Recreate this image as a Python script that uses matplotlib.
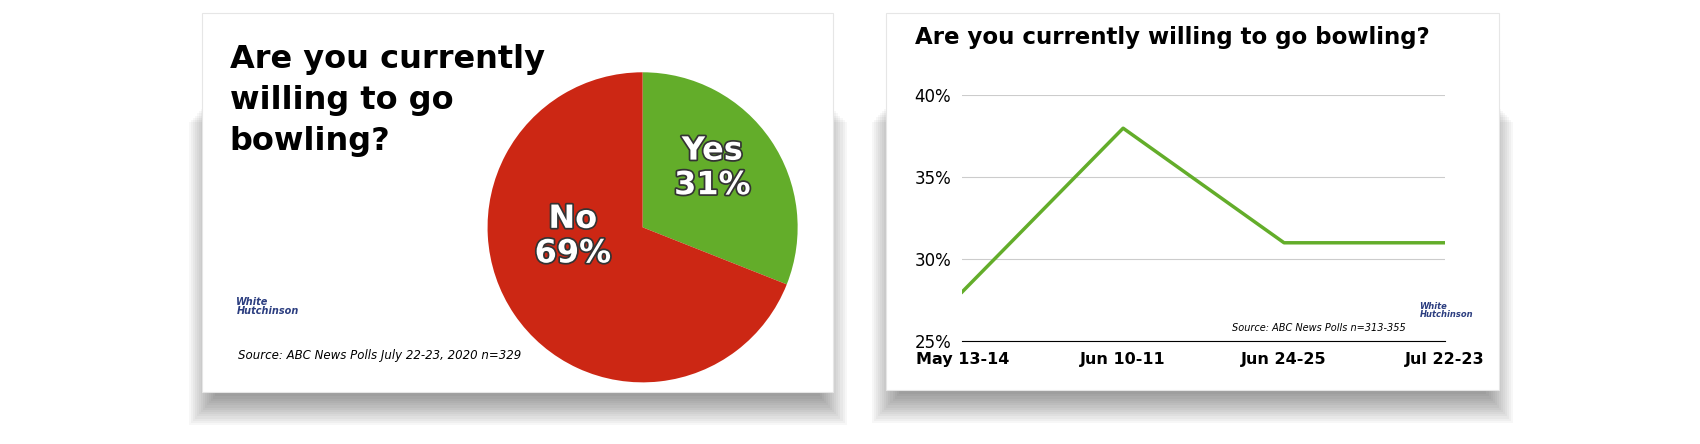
import matplotlib
matplotlib.use("Agg")
from matplotlib import pyplot as plt
from matplotlib.patches import Rectangle
import matplotlib.patheffects as pe

# Data
pie_labels = ["Yes", "No"]
pie_values = [31, 69]
pie_colors = ["#63ad2a", "#cc2714"]

dates = ["May 13-14", "Jun 10-11", "Jun 24-25", "Jul 22-23"]
willing = [28, 38, 31, 31]

fig = plt.figure(figsize=(17, 4.44), dpi=100)
fig.patch.set_facecolor("white")

# Cards with a soft shadow below
cards = [(0.119, 0.117, 0.371, 0.853), (0.521, 0.122, 0.361, 0.848)]
for (x, y, w, h) in cards:
    for i in range(14):
        sx = i * 0.0012
        sy = i * 0.005
        fig.patches.append(Rectangle((x - 0.008 + sx, y - 0.075 + sy), w + 0.016 - 2 * sx,
                                     h * 0.8, transform=fig.transFigure, color="black",
                                     alpha=0.03, lw=0, zorder=-2))
    fig.patches.append(Rectangle((x, y), w, h, transform=fig.transFigure,
                                 facecolor="white", edgecolor="#e6e6e6", lw=0.8, zorder=-1))

# Left: pie
ax1 = fig.add_axes([0.264, 0.023, 0.228, 0.93])
wedges, _ = ax1.pie(pie_values, colors=pie_colors, startangle=90, counterclock=False,
                    wedgeprops=dict(lw=0))
ax1.set_aspect("equal")
ax1.text(0.45, 0.38, "Yes\n31%", ha="center", va="center", color="white",
         fontsize=23, fontweight="bold", linespacing=1.15)
ax1.text(-0.45, -0.06, "No\n69%", ha="center", va="center", color="white",
         fontsize=23, fontweight="bold", linespacing=1.15)
for t in ax1.texts:
    t.set_path_effects([pe.withStroke(linewidth=2.5, foreground="#333333")])

fig.text(0.135, 0.90, "Are you currently\nwilling to go\nbowling?", ha="left", va="top",
         fontsize=23, fontweight="bold", linespacing=1.4)
fig.text(0.139, 0.31, "White\nHutchinson", ha="left", va="center", fontsize=7,
         color="#2c3e80", style="italic", fontweight="bold", linespacing=0.9)
fig.text(0.14, 0.2, "Source: ABC News Polls July 22-23, 2020 n=329", ha="left",
         va="center", fontsize=8.5, style="italic")

# Right: line chart
ax2 = fig.add_axes([0.566, 0.232, 0.284, 0.553])
ax2.plot(range(len(dates)), willing, color="#63ad2a", lw=2.5)
ax2.set_ylim(25, 40)
ax2.set_xlim(0, len(dates) - 1)
ax2.set_yticks([25, 30, 35, 40])
ax2.set_yticklabels(["25%", "30%", "35%", "40%"], fontsize=12)
ax2.set_xticks(range(len(dates)))
ax2.set_xticklabels(dates, fontsize=11.5, fontweight="bold")
ax2.grid(axis="y", color="#cccccc", lw=0.8)
ax2.tick_params(length=0, pad=8)
for s in ["top", "right", "left"]:
    ax2.spines[s].set_visible(False)
ax2.spines["bottom"].set_color("black")
ax2.set_axisbelow(True)
ax2.set_facecolor("none")

fig.text(0.538, 0.915, "Are you currently willing to go bowling?", ha="left",
         va="center", fontsize=16.5, fontweight="bold")
fig.text(0.835, 0.30, "White\nHutchinson", ha="left", va="center", fontsize=6,
         color="#2c3e80", style="italic", fontweight="bold", linespacing=0.9)
fig.text(0.725, 0.262, "Source: ABC News Polls n=313-355", ha="left", va="center",
         fontsize=7, style="italic")

fig.savefig("out.png", dpi=100)
